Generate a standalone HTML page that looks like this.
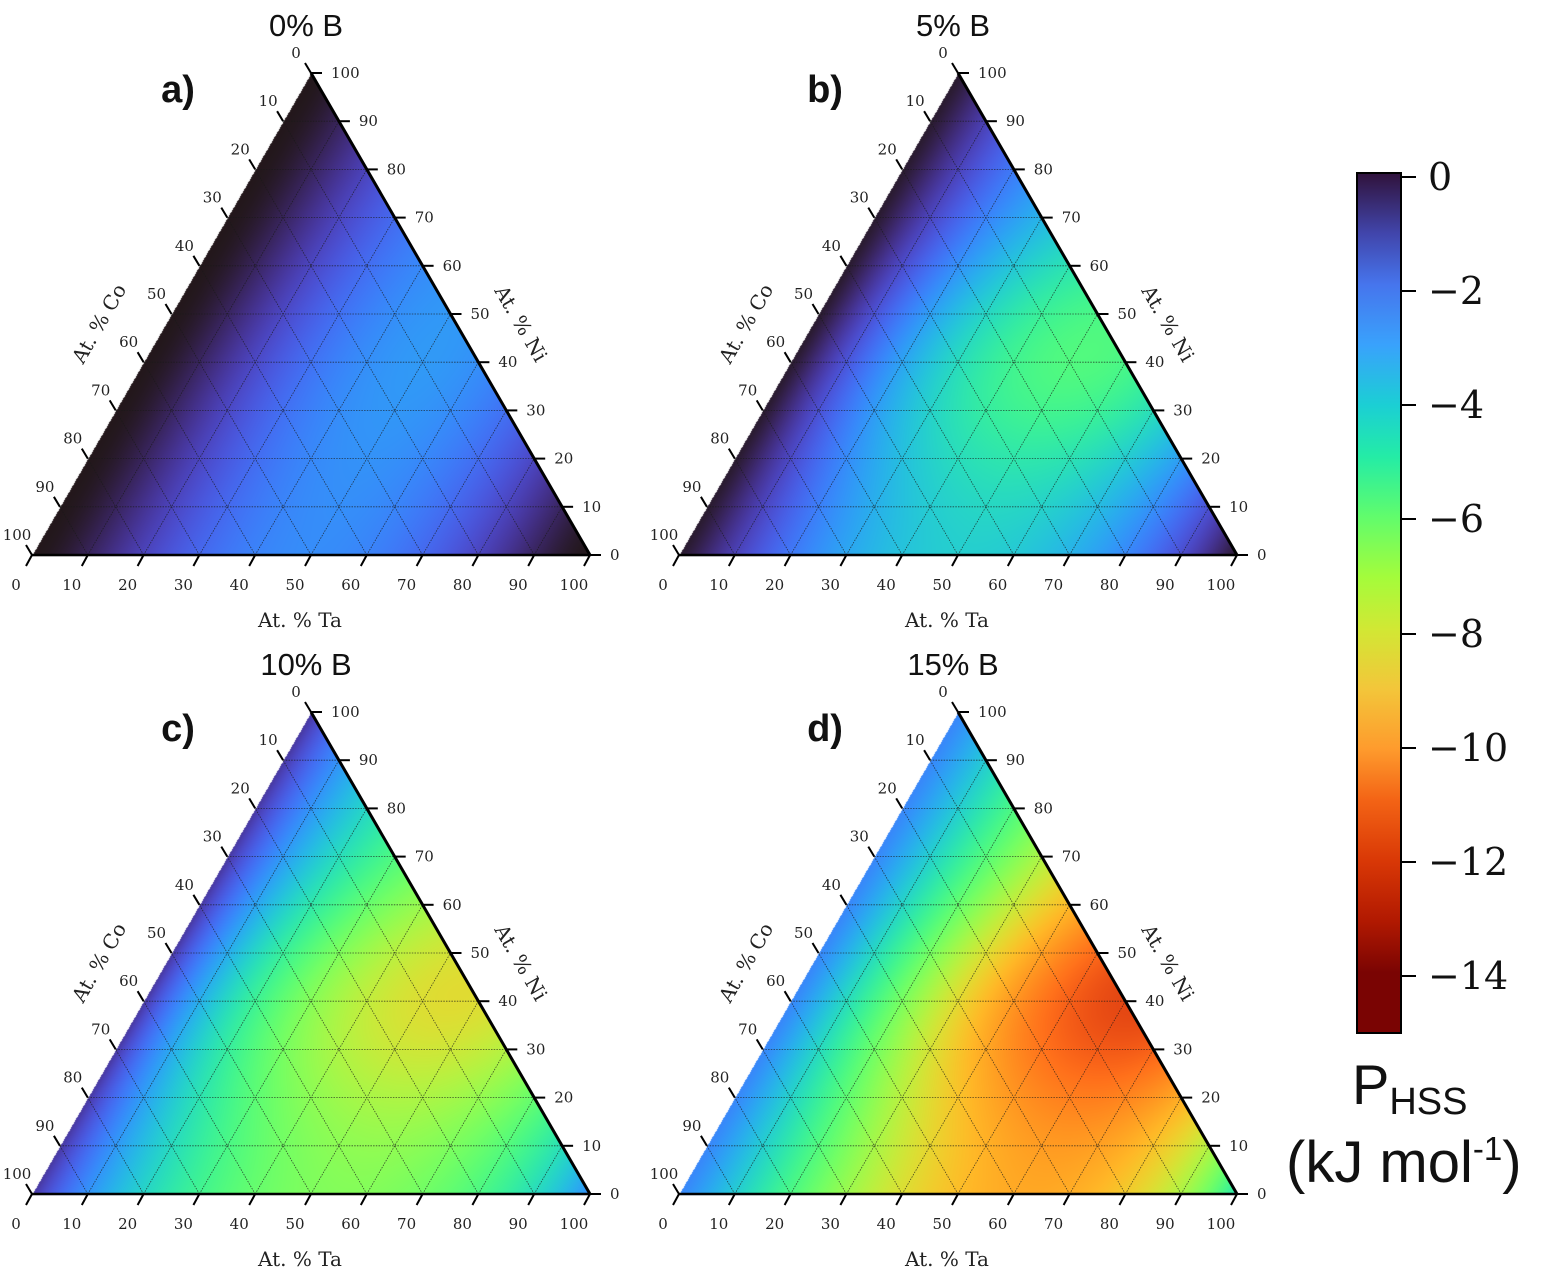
<!DOCTYPE html>
<html><head><meta charset="utf-8"><style>
html,body{margin:0;padding:0;background:#fff;}
#wrap{position:relative;width:1550px;height:1274px;overflow:hidden;}
canvas,svg{position:absolute;left:0;top:0;}
.tk{font-family:"DejaVu Serif","Liberation Serif",serif;font-size:15px;fill:#222;}
.ax{font-family:"DejaVu Serif","Liberation Serif",serif;font-size:20px;fill:#222;}
.ti{font-family:"Liberation Sans",sans-serif;font-size:31px;fill:#111;}
.lt{font-family:"Liberation Sans",sans-serif;font-size:38px;font-weight:bold;fill:#111;}
</style></head><body><div id="wrap">
<canvas id="cv" width="1550" height="1274"></canvas>
<svg id="sv" width="1550" height="1274" xmlns="http://www.w3.org/2000/svg">
<defs>
<linearGradient id="cb" x1="0" y1="0" x2="0" y2="1">
<stop offset="0" stop-color="#30123b"/><stop offset="0.07" stop-color="#4145ab"/><stop offset="0.13" stop-color="#4675ed"/><stop offset="0.2" stop-color="#39a2fc"/><stop offset="0.27" stop-color="#1bcfd4"/><stop offset="0.33" stop-color="#24eca6"/><stop offset="0.4" stop-color="#61fc6c"/><stop offset="0.47" stop-color="#a4fc3b"/><stop offset="0.53" stop-color="#d1e834"/><stop offset="0.6" stop-color="#f3c63a"/><stop offset="0.67" stop-color="#fe9b2d"/><stop offset="0.73" stop-color="#f36315"/><stop offset="0.8" stop-color="#d93806"/><stop offset="0.87" stop-color="#b11901"/><stop offset="0.93" stop-color="#7a0403"/><stop offset="1" stop-color="#7a0403"/>
</linearGradient>
</defs>
<g id="panels"></g>
<rect x="1357" y="173" width="44" height="860" fill="url(#cb)" stroke="#000" stroke-width="2"/>
<g stroke="#000" stroke-width="2">
<line x1="1401" y1="177" x2="1416" y2="177"/><line x1="1401" y1="291" x2="1416" y2="291"/><line x1="1401" y1="405" x2="1416" y2="405"/><line x1="1401" y1="519" x2="1416" y2="519"/><line x1="1401" y1="634" x2="1416" y2="634"/><line x1="1401" y1="748" x2="1416" y2="748"/><line x1="1401" y1="862" x2="1416" y2="862"/><line x1="1401" y1="976" x2="1416" y2="976"/>
</g>
<g font-family="DejaVu Serif, Liberation Serif, serif" font-size="38" fill="#111">
<text x="1428" y="190">0</text><text x="1428" y="304">−2</text><text x="1428" y="418">−4</text><text x="1428" y="532">−6</text><text x="1428" y="647">−8</text><text x="1428" y="761">−10</text><text x="1428" y="875">−12</text><text x="1428" y="989">−14</text>
</g>
<text x="1352" y="1104" font-family="Liberation Sans, sans-serif" font-size="56" fill="#111">P<tspan font-size="38" dy="10">HSS</tspan></text>
<text x="1286" y="1182" font-family="Liberation Sans, sans-serif" font-size="58" fill="#111">(kJ mol<tspan font-size="33" dy="-22">-1</tspan><tspan dy="22">)</tspan></text>
</svg>
</div>
<script>
(function(){
var P=[{ax:311,ay:73,t:"0% B",l:"a)",E:0,F:0,A:2.6,B:0.3,a:2,b:2},
{ax:958,ay:73,t:"5% B",l:"b)",E:0.1,F:0.1,A:4,B:2,a:1.4,b:1.3},
{ax:311,ay:712,t:"10% B",l:"c)",E:0.8,F:2.5,A:5.3,B:2,a:1.0,b:0.9},
{ax:958,ay:712,t:"15% B",l:"d)",E:2.5,F:4.5,A:6.5,B:2.3,a:1.2,b:0.8}];
function turbo(x){x=Math.max(0,Math.min(1,x));
var r=0.13572138+x*(4.61539260+x*(-42.66032258+x*(132.13108234+x*(-152.94239396+x*59.28637943))));
var g=0.09140261+x*(2.19418839+x*(4.84296658+x*(-14.18503333+x*(4.27729857+x*2.82956604))));
var b=0.10667330+x*(12.64194608+x*(-60.58204836+x*(110.36276771+x*(-89.90310912+x*27.34824973))));
return [r*255,g*255,b*255];}
var cv=document.getElementById('cv'),ctx=cv.getContext('2d');
var img=ctx.createImageData(1550,1274),d=img.data;
for(var i=0;i<d.length;i+=4){d[i]=255;d[i+1]=255;d[i+2]=255;d[i+3]=255;}
P.forEach(function(p){
 var pk=p.a/(p.a+p.b),mx=Math.pow(pk,p.a)*Math.pow(1-pk,p.b);
 for(var py=p.ay;py<=p.ay+482;py++){
  var Ni=(p.ay+482-py)/482;
  for(var px=p.ax-280;px<=p.ax+280;px++){
   var Ta=(px-(p.ax-279))/558-Ni/2;
   if(Ta<0||Ta+Ni>1)continue;
   var S=Math.pow(Ta,p.a)*Math.pow(Math.max(0,1-Ta),p.b)/mx;
   var q=Math.exp(-Math.pow((Ni-0.42)/0.25,2));
   var V=p.E*(1-Ta)+p.F*Ta+S*(p.A+p.B*q);
   var c=turbo(V/15),k=(py*1550+px)*4;
   d[k]=c[0];d[k+1]=c[1];d[k+2]=c[2];
  }
 }
});
ctx.putImageData(img,0,0);
var NS="http://www.w3.org/2000/svg",G=document.getElementById('panels');
function el(n,a,par,txt){var e=document.createElementNS(NS,n);for(var k in a)e.setAttribute(k,a[k]);if(txt!=null)e.textContent=txt;(par||G).appendChild(e);return e;}
P.forEach(function(p){
 var g=el('g',{transform:'translate('+p.ax+','+p.ay+')'});
 var gl=el('g',{stroke:'#1a1a1a','stroke-width':'0.8','stroke-dasharray':'1.5,1.2',opacity:'0.75'},g);
 for(var k=1;k<10;k++){
  el('line',{x1:-279+27.9*k,y1:482-48.2*k,x2:279-27.9*k,y2:482-48.2*k},gl);
  el('line',{x1:-279+55.8*k,y1:482,x2:279-27.9*(10-k),y2:482-48.2*(10-k)},gl);
  el('line',{x1:-279+55.8*(10-k),y1:482,x2:-27.9*k,y2:48.2*k},gl);
 }
 el('line',{x1:0,y1:0,x2:279,y2:482,stroke:'#000','stroke-width':'3'},g);
 el('line',{x1:-279,y1:482,x2:279,y2:482,stroke:'#000','stroke-width':'2.5'},g);
 var tg=el('g',{stroke:'#000','stroke-width':'2'},g);
 for(var k=0;k<=10;k++){
  var x=-279+55.8*k;
  el('line',{x1:x,y1:482,x2:x-6,y2:493},tg);
  el('text',{x:x-16,y:517,'text-anchor':'middle','class':'tk'},g,String(k*10));
  var rx=279-27.9*k,ry=482-48.2*k;
  el('line',{x1:rx,y1:ry,x2:rx+11,y2:ry},tg);
  el('text',{x:rx+20,y:ry+5,'class':'tk'},g,String(k*10));
  var lx=-27.9*k,ly=48.2*k;
  el('line',{x1:lx,y1:ly,x2:lx-6,y2:ly-10},tg);
  el('text',{x:lx-15,y:ly-15,'text-anchor':'middle','class':'tk'},g,String(k*10));
 }
 el('text',{x:-11,y:554,'text-anchor':'middle','class':'ax'},g,'At. % Ta');
 el('text',{x:0,y:0,'text-anchor':'middle','class':'ax',transform:'translate(-206,254) rotate(-60)'},g,'At. % Co');
 el('text',{x:0,y:0,'text-anchor':'middle','class':'ax',transform:'translate(204,254) rotate(60)'},g,'At. % Ni');
 el('text',{x:-5,y:-37,'text-anchor':'middle','class':'ti'},g,p.t);
 el('text',{x:-133,y:29,'text-anchor':'middle','class':'lt'},g,p.l);
});
})();
</script>
</body></html>
